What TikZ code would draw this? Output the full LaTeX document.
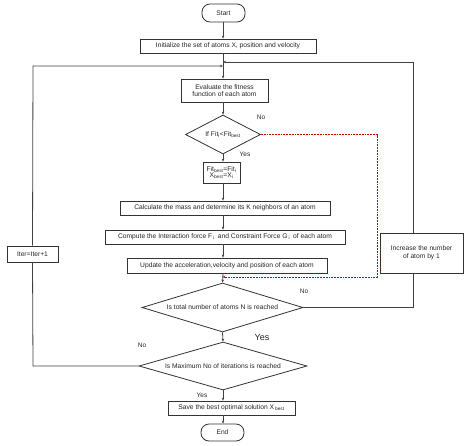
\documentclass[tikz,border=0pt]{standalone}
\usepackage{fontspec}
\setmainfont{Liberation Sans}
\usetikzlibrary{shapes.geometric,arrows.meta,calc}
\begin{document}
\begin{tikzpicture}[x=1pt,y=-1pt,
  every node/.style={font=\fontsize{6.7}{7.6}\selectfont, text=black!85},
  proc/.style={draw=black!80, line width=0.8pt, fill=white, inner sep=1pt, align=center},
  term/.style={proc, rounded corners=8pt},
  dec/.style={draw=black!80, line width=0.8pt, fill=white, diamond, inner sep=0pt, align=center},
  flow/.style={draw=black!75, line width=0.8pt},
  arr/.style={flow, -{Stealth[length=3pt,width=2.5pt]}},
  redarr/.style={draw=red!80!black, line width=0.8pt, dash pattern=on 1.8pt off 1pt, -{Stealth[length=3pt,width=2.5pt]}},
  lbl/.style={font=\fontsize{6.5}{7.5}\selectfont}
]
\useasboundingbox (0,0) rectangle (474,445);
\coordinate (ax) at (223,0);

\node[term, minimum width=43pt, minimum height=18pt] (start) at (223.5,13) {Start};
\node[proc, minimum width=176pt, minimum height=14pt] (init) at (228,46) {Initialize the set of atoms X, position and velocity};
\node[proc, minimum width=87pt, minimum height=23pt] (eval) at (224.5,90.5) {Evaluate the fitness\\function of each atom};
\node[dec, minimum width=75pt, minimum height=39pt, shape aspect=2] (d1) at (223,134.5) {If Fit\textsubscript{i}<Fit\textsubscript{best}};
\node[proc, minimum width=37pt, minimum height=21pt, inner sep=0.5pt] (fit) at (221.5,172.5) {Fit\textsubscript{best}=Fit\textsubscript{i}\\[-1.5pt]X\textsubscript{best}=X\textsubscript{i}};
\node[proc, minimum width=210pt, minimum height=14pt] (mass) at (225,208) {Calculate the mass and determine its K neighbors of an atom};
\node[proc, minimum width=240pt, minimum height=14pt] (force) at (225,237) {Compute the Interaction force F\,\textsubscript{i}\, and Constraint Force G\,\textsubscript{i}\, of each atom};
\node[proc, minimum width=200pt, minimum height=15pt] (upd) at (227,265.5) {Update the acceleration,velocity and position of each atom};
\node[dec, minimum width=161pt, minimum height=49pt, shape aspect=3.3] (d2) at (222.5,307.5) {Is total number of atoms N is reached};
\node[dec, minimum width=168pt, minimum height=48pt, shape aspect=3.5] (d3) at (223,366) {Is Maximum No of iterations is reached};
\node[proc, minimum width=127pt, minimum height=14pt] (save) at (231.5,408) {Save the best optimal solution X\,\textsubscript{best}};
\node[term, minimum width=43pt, minimum height=17pt] (end) at (222.5,432.5) {End};
\node[proc, minimum width=83pt, minimum height=40pt] (inc) at (421.5,253) {Increase the number\\of atom by 1};
\node[proc, minimum width=51pt, minimum height=16pt] (iter) at (32.5,254) {Iter=Iter+1};

\coordinate (jl) at (33,66);
\coordinate (jr) at (413,62);
\coordinate (rd1) at (377,134.5);
\coordinate (rd2) at (377,277);

% main axis
\draw[arr] (start.south -| ax) -- (init.north -| ax);
\draw[arr] (init.south -| ax) -- (eval.north -| ax);
\draw[arr] (eval.south -| ax) -- (d1.north);
\draw[arr] (d1.south) -- (fit.north -| d1.south);
\draw[arr] (fit.south -| ax) -- (mass.north -| ax);
\draw[arr] (mass.south -| ax) -- (force.north -| ax);
\draw[arr] (force.south -| ax) -- (upd.north -| ax);
\draw[arr] (upd.south -| ax) -- (d2.north);
\draw[arr] (d2.south) -- (d3.north);
\draw[arr] (d3.south) -- (save.north -| d3.south);
\draw[arr] (save.south -| ax) -- (end.north -| ax);

% dashed red No branch
\draw[redarr] (d1.east) -- (rd1) -- (rd2) -- (rd2 -| d2.north);

% right loop
\draw[flow] (d2.east) -- (d2.east -| jr) -- (inc.south -| jr);
\draw[arr] (inc.north -| jr) -- (jr) -- (jr -| ax);

% left loop
\draw[flow] (d3.west) -- (d3.west -| jl) -- (iter.south);
\draw[arr] (iter.north) -- (jl) -- (jl -| ax);

% labels
\node[lbl] (no1) at (261,117) {No};
\node[lbl] (yes1) at (245,154) {Yes};
\node[lbl] (no2) at (304,291) {No};
\node[lbl, font=\fontsize{9}{10}\selectfont] (yes2) at (262,337) {Yes};
\node[lbl] (no3) at (142,345) {No};
\node[lbl] (yes3) at (202,395) {Yes};
\end{tikzpicture}
\end{document}
